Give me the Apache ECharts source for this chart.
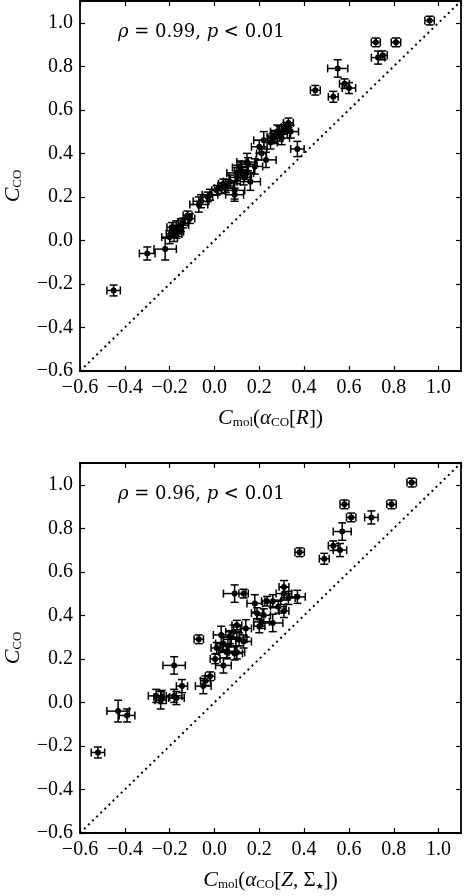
<!DOCTYPE html>
<html>
<head>
<meta charset="utf-8">
<script src="https://cdn.jsdelivr.net/npm/echarts@6/dist/echarts.min.js"></script>
<style>
html,body{margin:0;padding:0;background:#fff;}
#chart{width:474px;height:896px;}
</style>
</head>
<body>
<div id="chart"></div>
<script>
// ---- Top panel: C_mol(alpha_CO[R]) vs C_CO ----
const topCmol = [0.96,0.72,0.81,0.73,0.75,0.55,0.58,0.60,0.45,0.53,0.37,0.33,0.34,0.29,0.31,0.27,0.22,0.30,0.21,0.23,0.18,0.145,0.115,0.10,0.145,0.13,0.10,0.16,0.09,0.05,0.04,0.09,0.03,0.01,-0.02,-0.03,-0.06,-0.07,-0.11,-0.12,-0.15,-0.17,-0.18,-0.16,-0.20,-0.22,-0.30,-0.45,-0.19,-0.14,0.26,0.32,0.20,0.28,0.25,0.12,0.07,0.15];
const topCco  = [1.01,0.91,0.91,0.84,0.85,0.79,0.72,0.70,0.69,0.66,0.42,0.54,0.50,0.49,0.51,0.475,0.46,0.47,0.40,0.37,0.34,0.36,0.335,0.31,0.31,0.29,0.29,0.27,0.23,0.25,0.26,0.21,0.24,0.23,0.21,0.20,0.18,0.165,0.10,0.115,0.07,0.05,0.03,0.04,0.015,-0.04,-0.06,-0.23,0.06,0.08,0.47,0.52,0.43,0.50,0.45,0.32,0.27,0.35];
const topXerr = [0.021,0.02,0.021,0.03,0.021,0.045,0.022,0.03,0.022,0.022,0.03,0.022,0.035,0.035,0.022,0.035,0.045,0.035,0.022,0.045,0.035,0.045,0.035,0.045,0.03,0.035,0.035,0.045,0.045,0.035,0.022,0.04,0.03,0.022,0.035,0.022,0.035,0.04,0.022,0.02,0.035,0.03,0.035,0.022,0.035,0.05,0.035,0.03,0.022,0.022,0.022,0.022,0.035,0.03,0.03,0.03,0.03,0.03];
const topYerr = [0.02,0.02,0.02,0.03,0.02,0.04,0.022,0.025,0.022,0.025,0.035,0.022,0.03,0.035,0.022,0.03,0.04,0.03,0.03,0.035,0.035,0.04,0.03,0.035,0.03,0.035,0.03,0.04,0.04,0.03,0.022,0.03,0.025,0.022,0.025,0.022,0.03,0.035,0.022,0.02,0.03,0.04,0.035,0.022,0.03,0.05,0.03,0.025,0.022,0.022,0.022,0.022,0.03,0.03,0.03,0.03,0.03,0.03];

// ---- Bottom panel: C_mol(alpha_CO[Z, Sigma*]) vs C_CO ----
const botCmol = [0.88,0.58,0.79,0.61,0.70,0.57,0.53,0.56,0.38,0.49,0.09,0.13,0.31,0.31,0.37,0.26,0.235,0.18,0.19,0.31,0.21,0.26,0.20,0.14,0.10,-0.07,0.03,0.04,0.11,0.085,0.01,0.055,0.09,0.003,0.04,0.055,0.10,-0.02,-0.04,-0.05,-0.18,-0.145,-0.17,-0.18,-0.235,-0.24,-0.26,-0.43,-0.39,-0.52,0.06,0.285,0.13,0.33,0.22,0.07];
const botCco  = [1.01,0.91,0.91,0.85,0.85,0.785,0.72,0.70,0.69,0.66,0.50,0.50,0.53,0.50,0.485,0.465,0.465,0.455,0.41,0.42,0.37,0.365,0.35,0.34,0.355,0.29,0.31,0.27,0.29,0.325,0.25,0.235,0.225,0.20,0.17,0.23,0.23,0.12,0.10,0.075,0.17,0.075,0.02,0.03,0.025,0.01,0.03,-0.04,-0.06,-0.23,0.26,0.44,0.28,0.48,0.40,0.30];
const botXerr = [0.021,0.02,0.021,0.021,0.03,0.04,0.022,0.03,0.021,0.022,0.05,0.021,0.022,0.035,0.035,0.035,0.025,0.035,0.025,0.022,0.035,0.045,0.025,0.025,0.022,0.021,0.035,0.035,0.035,0.035,0.025,0.035,0.035,0.022,0.035,0.035,0.035,0.021,0.022,0.035,0.05,0.025,0.035,0.035,0.035,0.025,0.035,0.05,0.035,0.03,0.035,0.035,0.035,0.03,0.03,0.03];
const botYerr = [0.02,0.02,0.02,0.02,0.03,0.04,0.022,0.03,0.02,0.025,0.04,0.02,0.03,0.03,0.03,0.03,0.022,0.04,0.025,0.03,0.03,0.04,0.03,0.04,0.022,0.02,0.04,0.03,0.03,0.03,0.025,0.03,0.03,0.022,0.035,0.03,0.03,0.02,0.022,0.035,0.04,0.03,0.03,0.03,0.03,0.04,0.03,0.05,0.03,0.025,0.03,0.03,0.03,0.03,0.03,0.03];

const axisTicks = [-0.6,-0.4,-0.2,0.0,0.2,0.4,0.6,0.8,1.0];
const oneToOne = [[-0.6,-0.6],[1.1,1.1]];
const topStat = '{i|ρ}{n| = 0.99, }{i|p}{n| < 0.01}';
const botStat = '{i|ρ}{n| = 0.96, }{i|p}{n| < 0.01}';

const SERIF = '"Liberation Serif", "Times New Roman", serif';
const fmt = v => (v < 0 ? '\u2212' : '') + Math.abs(v).toFixed(1);

function makeAxis(gridIndex, position, showLabels) {
  return {
    type: 'value', gridIndex, position,
    min: axisTicks[0], max: 1.1, interval: 0.2,
    axisLine: {show: true, onZero: false, lineStyle: {color: '#000', width: 1.8}},
    axisTick: {show: true, inside: true, length: 5, lineStyle: {color: '#000', width: 1.2}},
    splitLine: {show: false},
    axisLabel: {show: showLabels, formatter: fmt, color: '#000', fontFamily: SERIF, fontWeight: 'normal', fontSize: 20, margin: 7, showMaxLabel: false}
  };
}

const nameRich = {
  c: {fontFamily: SERIF, fontStyle: 'italic', fontSize: 22, lineHeight: 22, verticalAlign: 'bottom', color: '#000'},
  i: {fontFamily: SERIF, fontStyle: 'italic', fontSize: 21, lineHeight: 22, verticalAlign: 'bottom', color: '#000'},
  n: {fontFamily: SERIF, fontSize: 21, lineHeight: 22, verticalAlign: 'bottom', color: '#000'},
  s: {fontFamily: SERIF, fontSize: 13, lineHeight: 9, verticalAlign: 'bottom', color: '#000'},
  st: {fontFamily: 'DejaVu Sans', fontSize: 9, lineHeight: 9, verticalAlign: 'bottom', color: '#000'}
};

const xAxes = [
  Object.assign(makeAxis(0, 'bottom', true), {
    name: '{c|C}{s|mol}{n|(}{i|α}{s|CO}{n|[}{i|R}{n|])}',
    nameLocation: 'middle', nameGap: 36, nameTextStyle: {rich: nameRich}
  }),
  makeAxis(0, 'top', false),
  Object.assign(makeAxis(1, 'bottom', true), {
    name: '{c|C}{s|mol}{n|(}{i|α}{s|CO}{n|[}{i|Z}{n|, Σ}{st|★}{n|])}',
    nameLocation: 'middle', nameGap: 36, nameTextStyle: {rich: nameRich}
  }),
  makeAxis(1, 'top', false)
];
const yAxes = [
  Object.assign(makeAxis(0, 'left', true), {
    name: '{c|C}{s|CO}', nameLocation: 'middle', nameGap: 56, nameRotate: 90, nameTextStyle: {rich: nameRich}
  }),
  makeAxis(0, 'right', false),
  Object.assign(makeAxis(1, 'left', true), {
    name: '{c|C}{s|CO}', nameLocation: 'middle', nameGap: 56, nameRotate: 90, nameTextStyle: {rich: nameRich}
  }),
  makeAxis(1, 'right', false)
];

function errRender(params, api) {
  const x = api.value(0), y = api.value(1), ex = api.value(2), ey = api.value(3);
  const c = api.coord([x, y]);
  const l = api.coord([x - ex, y]), r = api.coord([x + ex, y]);
  const b = api.coord([x, y - ey]), t = api.coord([x, y + ey]);
  const cap = 4;
  const st = {stroke: '#000', lineWidth: 1.5};
  return {
    type: 'group',
    children: [
      {type: 'line', shape: {x1: l[0], y1: l[1], x2: r[0], y2: r[1]}, style: st},
      {type: 'line', shape: {x1: b[0], y1: b[1], x2: t[0], y2: t[1]}, style: st},
      {type: 'line', shape: {x1: l[0], y1: l[1] - cap, x2: l[0], y2: l[1] + cap}, style: st},
      {type: 'line', shape: {x1: r[0], y1: r[1] - cap, x2: r[0], y2: r[1] + cap}, style: st},
      {type: 'line', shape: {x1: b[0] - cap, y1: b[1], x2: b[0] + cap, y2: b[1]}, style: st},
      {type: 'line', shape: {x1: t[0] - cap, y1: t[1], x2: t[0] + cap, y2: t[1]}, style: st},
      {type: 'circle', shape: {cx: c[0], cy: c[1], r: 3}, style: {fill: '#000'}}
    ]
  };
}

function pack(xs, ys, exs, eys) { return xs.map((v, i) => [v, ys[i], exs[i], eys[i]]); }

const statRich = {
  i: {fontFamily: '"DejaVu Serif", serif', fontStyle: 'italic', fontWeight: 'normal', fontSize: 18, color: '#000'},
  n: {fontFamily: '"DejaVu Serif", serif', fontWeight: 'normal', fontSize: 18, color: '#000'}
};

const option = {
  backgroundColor: '#fff',
  animation: false,
  title: [
    {text: topStat, left: 118, top: 23, padding: 0, textStyle: {fontWeight: 'normal', rich: statRich}},
    {text: botStat, left: 118, top: 485, padding: 0, textStyle: {fontWeight: 'normal', rich: statRich}}
  ],
  grid: [
    {left: 80, width: 381, top: 1, height: 370, containLabel: false, outerBoundsMode: 'none'},
    {left: 80, width: 381, top: 463, height: 370, containLabel: false, outerBoundsMode: 'none'}
  ],
  xAxis: xAxes,
  yAxis: yAxes,
  series: [
    {type: 'line', xAxisIndex: 0, yAxisIndex: 0, data: oneToOne, symbol: 'none',
     lineStyle: {color: '#000', width: 2, type: [2, 3.7]}, silent: true},
    {type: 'line', xAxisIndex: 2, yAxisIndex: 2, data: oneToOne, symbol: 'none',
     lineStyle: {color: '#000', width: 2, type: [2, 3.7]}, silent: true},
    {type: 'custom', xAxisIndex: 0, yAxisIndex: 0, renderItem: errRender,
     data: pack(topCmol, topCco, topXerr, topYerr), clip: true},
    {type: 'custom', xAxisIndex: 2, yAxisIndex: 2, renderItem: errRender,
     data: pack(botCmol, botCco, botXerr, botYerr), clip: true}
  ]
};

const chart = echarts.init(document.getElementById('chart'), null, {renderer: 'canvas'});
chart.setOption(option);
</script>
</body>
</html>
